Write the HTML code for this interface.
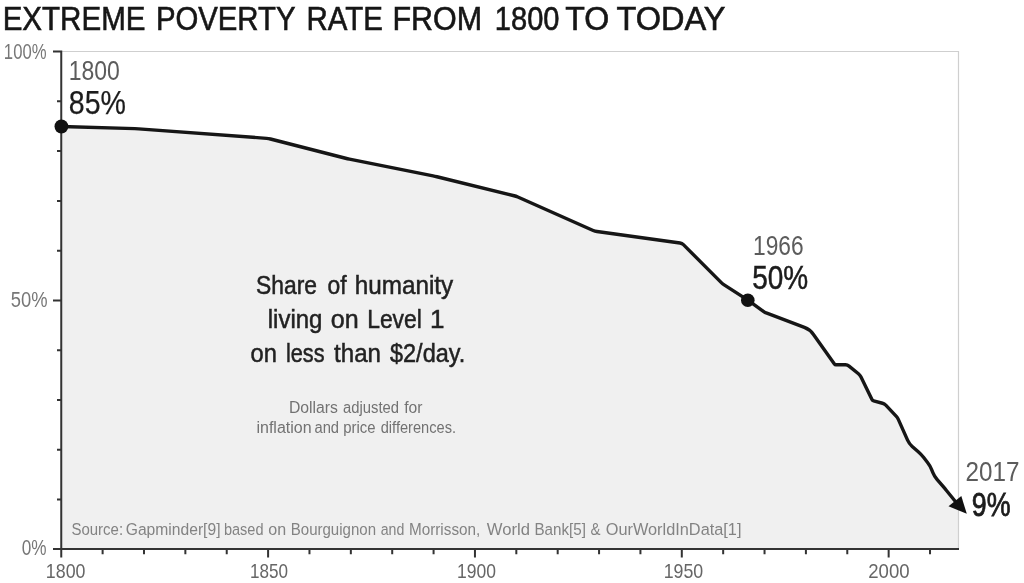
<!DOCTYPE html>
<html><head><meta charset="utf-8"><title>Extreme poverty rate from 1800 to today</title>
<style>
html,body{margin:0;padding:0;background:#fff;}
body{width:1024px;height:583px;overflow:hidden;}
svg{display:block;}
text{font-family:"Liberation Sans",sans-serif;}
</style></head><body>
<svg width="1024" height="583" viewBox="0 0 1024 583">
<rect width="1024" height="583" fill="#fff"/>
<path d="M61.25,126.5 L136.7,128.7 L268.5,138.5 L347.5,158.75 L435,176.25 L516,196.25 L595,231.25 L682,243.25 L722.5,283.75 L748,300.25 L765,312.5 L810,329.5 L835,364.8 L847.5,364.8 L860,375 L872.5,400.6 L884.4,403.75 L897.5,417.5 L909.2,443.75 L921.25,454.4 L930,465.6 L934.4,476.25 L945,488.75 L955,501 L958.5,505 L958.5,549 L61.25,549Z" fill="#f0f0f0"/>
<path d="M62,51.5 H958.5 V549" fill="none" stroke="#cfcfcf" stroke-width="1.2"/>
<path d="M61.25,50.5 V550 M53,549.1 H959 M53,51.6 H61.25 M57,101.36 H61.25 M57,151.12 H61.25 M57,200.88 H61.25 M57,250.64 H61.25 M53,300.4 H61.25 M57,350.16 H61.25 M57,399.92 H61.25 M57,449.68 H61.25 M57,499.44 H61.25 M61.25,549 V557.5 M102.62,549 V554.3 M143.99,549 V554.3 M185.36,549 V554.3 M226.73,549 V554.3 M268.10,549 V557.5 M309.47,549 V554.3 M350.84,549 V554.3 M392.21,549 V554.3 M433.58,549 V554.3 M474.95,549 V557.5 M516.32,549 V554.3 M557.69,549 V554.3 M599.06,549 V554.3 M640.43,549 V554.3 M681.80,549 V557.5 M723.17,549 V554.3 M764.54,549 V554.3 M805.91,549 V554.3 M847.28,549 V554.3 M888.65,549 V557.5 M930.02,549 V554.3" fill="none" stroke="#333" stroke-width="2"/>
<path d="M61.25,126.5 L134.70,128.64 Q136.7,128.7 138.69,128.85 L266.51,138.35 Q268.5,138.5 270.44,139.00 L345.56,158.25 Q347.5,158.75 349.46,159.14 L433.04,175.86 Q435,176.25 436.94,176.73 L514.06,195.77 Q516,196.25 517.83,197.06 L593.17,230.44 Q595,231.25 596.98,231.52 L680.02,242.98 Q682,243.25 683.41,244.66 L721.09,282.34 Q722.5,283.75 724.18,284.84 L746.32,299.16 Q748,300.25 749.62,301.42 L763.38,311.33 Q765,312.5 766.87,313.21 L804.39,327.38 Q810,329.5 813.47,334.40 L834.42,363.98 Q835,364.8 836.00,364.80 L845.50,364.80 Q847.5,364.8 849.05,366.06 L858.45,373.74 Q860,375 860.88,376.80 L871.97,399.52 Q872.5,400.6 873.66,400.91 L882.47,403.24 Q884.4,403.75 885.78,405.20 L896.12,416.05 Q897.5,417.5 898.31,419.33 L907.57,440.10 Q909.2,443.75 912.20,446.40 L918.25,451.75 Q921.25,454.4 923.71,457.55 L927.54,462.45 Q930,465.6 931.53,469.30 L932.87,472.55 Q934.4,476.25 936.99,479.30 L943.71,487.22 Q945,488.75 946.26,490.30 L955,501" fill="none" stroke="#161616" stroke-width="3.4" stroke-linejoin="round" stroke-linecap="round"/>
<polygon points="966.8,513.8 948.5,506.3 961.3,496" fill="#111"/>
<circle cx="61.4" cy="126.5" r="6.9" fill="#111"/>
<circle cx="747.8" cy="300.2" r="6.8" fill="#111"/>
<text x="2.65" y="30.3" font-size="32.3" fill="#161616" textLength="142.86" lengthAdjust="spacingAndGlyphs" stroke="#161616" stroke-width="0.6">EXTREME</text>
<text x="155.88" y="30.3" font-size="32.3" fill="#161616" textLength="139.63" lengthAdjust="spacingAndGlyphs" stroke="#161616" stroke-width="0.6">POVERTY</text>
<text x="306.55" y="30.3" font-size="32.3" fill="#161616" textLength="76.36" lengthAdjust="spacingAndGlyphs" stroke="#161616" stroke-width="0.6">RATE</text>
<text x="392.44" y="30.3" font-size="32.3" fill="#161616" textLength="89.57" lengthAdjust="spacingAndGlyphs" stroke="#161616" stroke-width="0.6">FROM</text>
<text x="494.86" y="30.3" font-size="32.3" fill="#161616" textLength="64.66" lengthAdjust="spacingAndGlyphs" stroke="#161616" stroke-width="0.6">1800</text>
<text x="565.18" y="30.3" font-size="32.3" fill="#161616" textLength="44.07" lengthAdjust="spacingAndGlyphs" stroke="#161616" stroke-width="0.6">TO</text>
<text x="616.40" y="30.3" font-size="32.3" fill="#161616" textLength="109.01" lengthAdjust="spacingAndGlyphs" stroke="#161616" stroke-width="0.6">TODAY</text>
<text x="3.87" y="59" font-size="21.2" fill="#777" textLength="42.64" lengthAdjust="spacingAndGlyphs">100%</text>
<text x="10.77" y="307" font-size="21.2" fill="#777" textLength="36.77" lengthAdjust="spacingAndGlyphs">50%</text>
<text x="21.70" y="554.6" font-size="21.2" fill="#777" textLength="24.81" lengthAdjust="spacingAndGlyphs">0%</text>
<text x="45.85" y="578" font-size="20.4" fill="#666" textLength="39.59" lengthAdjust="spacingAndGlyphs">1800</text>
<text x="249.97" y="578" font-size="20.4" fill="#666" textLength="38.03" lengthAdjust="spacingAndGlyphs">1850</text>
<text x="456.96" y="578" font-size="20.4" fill="#666" textLength="38.96" lengthAdjust="spacingAndGlyphs">1900</text>
<text x="663.64" y="578" font-size="20.4" fill="#666" textLength="39.59" lengthAdjust="spacingAndGlyphs">1950</text>
<text x="868.27" y="578" font-size="20.4" fill="#666" textLength="41.33" lengthAdjust="spacingAndGlyphs">2000</text>
<text x="68.74" y="79.8" font-size="27.8" fill="#5c5c5c" textLength="51.09" lengthAdjust="spacingAndGlyphs">1800</text>
<text x="68.78" y="114" font-size="33" fill="#1c1c1c" textLength="57.13" lengthAdjust="spacingAndGlyphs" stroke="#1c1c1c" stroke-width="0.25">85%</text>
<text x="752.97" y="255" font-size="27.8" fill="#5c5c5c" textLength="50.64" lengthAdjust="spacingAndGlyphs">1966</text>
<text x="752.19" y="288.8" font-size="33" fill="#1c1c1c" textLength="56.02" lengthAdjust="spacingAndGlyphs" stroke="#1c1c1c" stroke-width="0.5">50%</text>
<text x="965.58" y="481" font-size="27.8" fill="#5c5c5c" textLength="53.94" lengthAdjust="spacingAndGlyphs">2017</text>
<text x="971.79" y="516.0" font-size="33" fill="#1c1c1c" textLength="38.72" lengthAdjust="spacingAndGlyphs" stroke="#1c1c1c" stroke-width="0.8">9%</text>
<text x="255.98" y="293.55" font-size="26" fill="#222" textLength="61.02" lengthAdjust="spacingAndGlyphs" stroke="#222" stroke-width="0.5">Share</text>
<text x="327.50" y="293.55" font-size="26" fill="#222" textLength="19.05" lengthAdjust="spacingAndGlyphs" stroke="#222" stroke-width="0.5">of</text>
<text x="354.74" y="293.55" font-size="26" fill="#222" textLength="98.51" lengthAdjust="spacingAndGlyphs" stroke="#222" stroke-width="0.5">humanity</text>
<text x="267.79" y="327.8" font-size="26" fill="#222" textLength="54.63" lengthAdjust="spacingAndGlyphs" stroke="#222" stroke-width="0.5">living</text>
<text x="330.70" y="327.8" font-size="26" fill="#222" textLength="27.91" lengthAdjust="spacingAndGlyphs" stroke="#222" stroke-width="0.5">on</text>
<text x="367.20" y="327.8" font-size="26" fill="#222" textLength="54.60" lengthAdjust="spacingAndGlyphs" stroke="#222" stroke-width="0.5">Level</text>
<text x="250.47" y="362.3" font-size="26" fill="#222" textLength="26.35" lengthAdjust="spacingAndGlyphs" stroke="#222" stroke-width="0.5">on</text>
<text x="285.97" y="362.3" font-size="26" fill="#222" textLength="38.55" lengthAdjust="spacingAndGlyphs" stroke="#222" stroke-width="0.5">less</text>
<text x="334.11" y="362.3" font-size="26" fill="#222" textLength="46.91" lengthAdjust="spacingAndGlyphs" stroke="#222" stroke-width="0.5">than</text>
<text x="390.00" y="362.3" font-size="26" fill="#222" textLength="75.29" lengthAdjust="spacingAndGlyphs" stroke="#222" stroke-width="0.5">$2/day.</text>
<text x="288.98" y="413" font-size="16" fill="#727272" textLength="49.02" lengthAdjust="spacingAndGlyphs">Dollars</text>
<text x="343.00" y="413" font-size="16" fill="#727272" textLength="56.02" lengthAdjust="spacingAndGlyphs">adjusted</text>
<text x="404.25" y="413" font-size="16" fill="#727272" textLength="18.26" lengthAdjust="spacingAndGlyphs">for</text>
<text x="256.47" y="433" font-size="16" fill="#727272" textLength="55.06" lengthAdjust="spacingAndGlyphs">inflation</text>
<text x="314.47" y="433" font-size="16" fill="#727272" textLength="24.58" lengthAdjust="spacingAndGlyphs">and</text>
<text x="343.25" y="433" font-size="16" fill="#727272" textLength="32.26" lengthAdjust="spacingAndGlyphs">price</text>
<text x="380.73" y="433" font-size="16" fill="#727272" textLength="75.29" lengthAdjust="spacingAndGlyphs">differences.</text>
<text x="71.47" y="534.5" font-size="17.2" fill="#838383" textLength="51.57" lengthAdjust="spacingAndGlyphs">Source:</text>
<text x="125.74" y="534.5" font-size="17.2" fill="#838383" textLength="94.77" lengthAdjust="spacingAndGlyphs">Gapminder[9]</text>
<text x="223.94" y="534.5" font-size="17.2" fill="#838383" textLength="39.59" lengthAdjust="spacingAndGlyphs">based</text>
<text x="268.22" y="534.5" font-size="17.2" fill="#838383" textLength="17.88" lengthAdjust="spacingAndGlyphs">on</text>
<text x="290.74" y="534.5" font-size="17.2" fill="#838383" textLength="85.28" lengthAdjust="spacingAndGlyphs">Bourguignon</text>
<text x="380.71" y="534.5" font-size="17.2" fill="#838383" textLength="23.58" lengthAdjust="spacingAndGlyphs">and</text>
<text x="408.96" y="534.5" font-size="17.2" fill="#838383" textLength="71.32" lengthAdjust="spacingAndGlyphs">Morrisson,</text>
<text x="486.75" y="534.5" font-size="17.2" fill="#838383" textLength="43.17" lengthAdjust="spacingAndGlyphs">World</text>
<text x="534.47" y="534.5" font-size="17.2" fill="#838383" textLength="51.57" lengthAdjust="spacingAndGlyphs">Bank[5]</text>
<text x="590.50" y="534.5" font-size="17.2" fill="#838383" textLength="10.00" lengthAdjust="spacingAndGlyphs">&amp;</text>
<text x="605.74" y="534.5" font-size="17.2" fill="#838383" textLength="135.76" lengthAdjust="spacingAndGlyphs">OurWorldInData[1]</text>
<text x="437.3" y="327.8" font-size="26" fill="#222" stroke="#222" stroke-width="0.5" text-anchor="middle">1</text>
</svg></body></html>
